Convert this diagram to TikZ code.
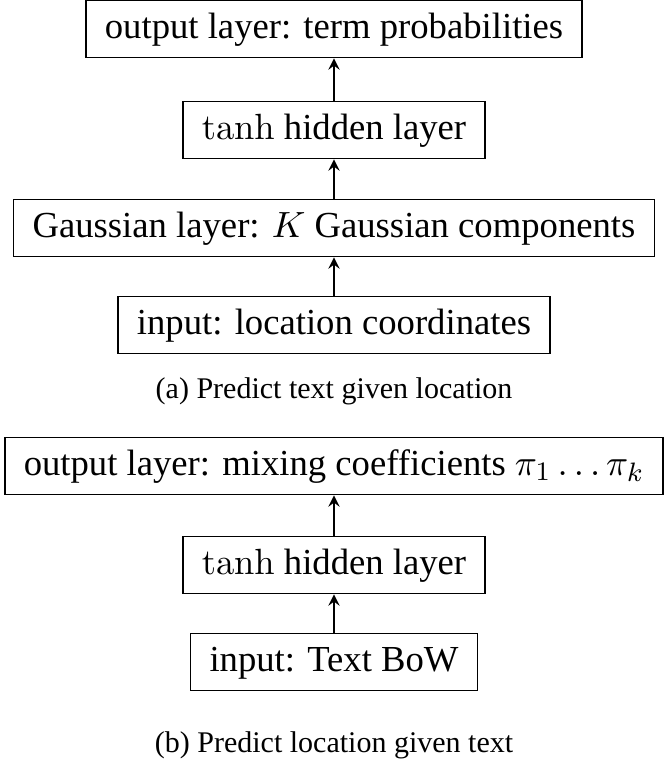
\documentclass[tikz,border=0pt]{standalone}
\usepackage[no-math]{fontspec}
\setmainfont{Liberation Serif}
\usetikzlibrary{arrows,positioning}
\tikzset{font=\fontsize{11}{13}\selectfont}
\tikzstyle{layer}=[draw,inner xsep=5.7pt,minimum height=16.5pt,text height=8pt,text depth=2.5pt]
\tikzstyle{capt}=[font=\fontsize{9}{11}\selectfont]
\begin{document}
\begin{tikzpicture}[x=0.3pt,y=-0.3pt,line width=0.5pt]
\useasboundingbox (0,0) rectangle (668,775);
\node[layer] (A) at (334,29) {output layer: term probabilities};
\node[layer] (B) at (334,130) {$\tanh$ hidden layer};
\node[layer] (C) at (334,228) {Gaussian layer: $K$ Gaussian components};
\node[layer] (D) at (334,325) {input: location coordinates};
\node[capt] (E) at (334,391) {(a) Predict text given location};
\node[layer] (F) at (334,466) {output layer: mixing coefficients $\pi_1\ldots\pi_k$};
\node[layer] (G) at (334,565) {$\tanh$ hidden layer};
\node[layer] (H) at (334,662) {input: Text BoW};
\node[capt] (I) at (334,745) {(b) Predict location given text};
\path[->,>=stealth]
(D) edge (C)
(C) edge (B)
(B) edge (A)
(H) edge (G)
(G) edge (F);
\end{tikzpicture}
\end{document}
